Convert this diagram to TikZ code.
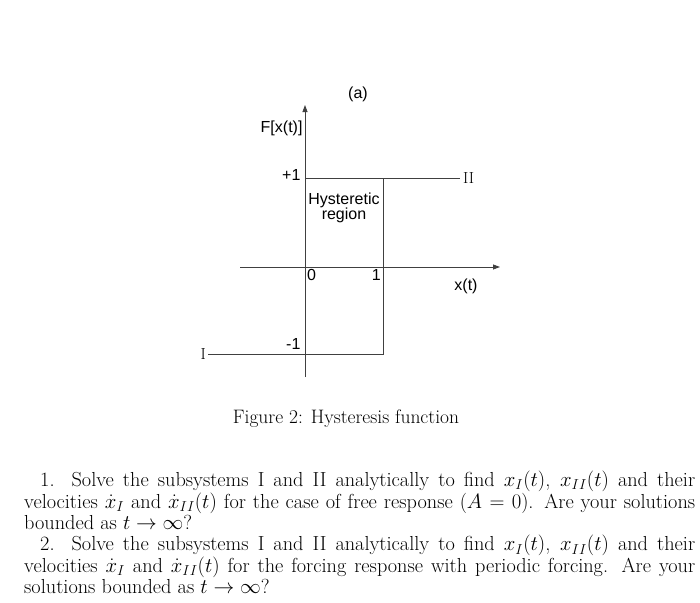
\documentclass[tikz,border=0pt]{standalone}
\usepackage{fontspec}
\newfontfamily\arial{Liberation Sans}
\usetikzlibrary{arrows.meta}
\begin{document}
\begin{tikzpicture}[x=1pt,y=-1pt,
  ln/.style={draw=black!75,line width=0.8pt},
  ax/.style={ln,-{Triangle[length=7pt,width=5pt]}},
  sl/.style={font=\arial\fontsize{16}{18}\selectfont},
  rl/.style={font=\fontsize{16}{18}\selectfont},
  body/.style={font=\fontsize{20.3}{21.4}\selectfont,text width=671pt,align=justify,inner sep=0pt,anchor=north west}]
\useasboundingbox (0,0) rectangle (700,602);
\coordinate (yb) at (305,377); \coordinate (yt) at (305,105);
\coordinate (xl) at (240,267); \coordinate (xr) at (500,267);
\coordinate (p0) at (305,178); \coordinate (p1) at (383,178); \coordinate (p2) at (460,178);
\coordinate (q0) at (208,354); \coordinate (q1) at (305,354); \coordinate (q2) at (383,354);
\draw[ax] (yb) -- (yt);
\draw[ax] (xl) -- (xr);
\draw[ln] (p0) -- (p2);
\draw[ln] (q0) -- (q2) -- (p1);
\node[sl] (a) at (358,94) {(a)};
\node[sl,anchor=east] (F) at (306,128) {F[x(t)]};
\node[sl,anchor=east] (p1l) at (304,175) {+1};
\node[sl,anchor=east] (m1l) at (304,344) {-1};
\node[sl,anchor=north west,inner sep=1pt] (z) at (306,268) {0};
\node[sl,anchor=north east,inner sep=1pt] (o) at (382,268) {1};
\node[sl] (xt) at (466,286) {x(t)};
\node[sl,align=center] (hr) at (344,208) {Hysteretic\\[-3pt]region};
\node[rl,anchor=west,inner sep=1pt] (II) at (462,178) {II};
\node[rl,anchor=east,inner sep=1pt] (I) at (207,354) {I};
\node[font=\fontsize{19.5}{21}\selectfont] (cap) at (346,419) {Figure 2: Hysteresis function};
\node[body] (t1) at (24,471) {\hspace*{16pt}1. Solve the subsystems I and II analytically to find $x_I(t)$, $x_{II}(t)$ and their\linebreak velocities $\dot x_I$ and $\dot x_{II}(t)$ for the case of free response ($A=0$). Are your solutions\linebreak bounded as $t\to\infty$?\\
\hspace*{16pt}2. Solve the subsystems I and II analytically to find $x_I(t)$, $x_{II}(t)$ and their\linebreak velocities $\dot x_I$ and $\dot x_{II}(t)$ for the forcing response with periodic forcing. Are your\linebreak solutions bounded as $t\to\infty$?};
\end{tikzpicture}
\end{document}
